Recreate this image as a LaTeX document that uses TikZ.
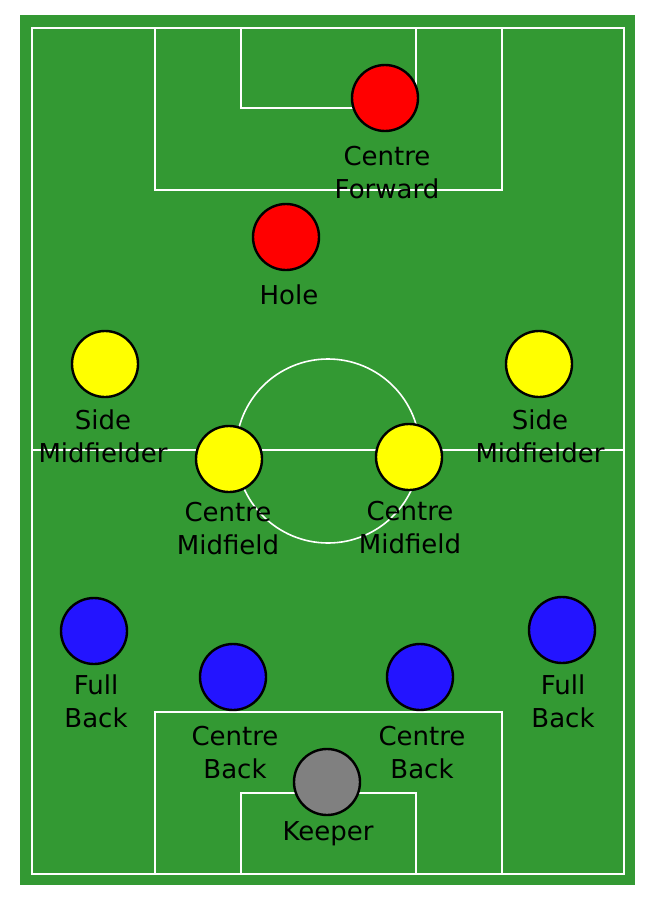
\documentclass[tikz,border=0pt]{standalone}
\usepackage{fontspec}
\setmainfont{DejaVu Sans}
\definecolor{pitch}{RGB}{51,153,51}
\definecolor{fwd}{RGB}{255,0,0}
\definecolor{mid}{RGB}{255,255,0}
\definecolor{def}{RGB}{35,20,255}
\definecolor{gk}{RGB}{128,128,128}
\begin{document}
\begin{tikzpicture}[x=1pt,y=-1pt,
  pline/.style={draw=white,line width=1.6pt},
  player/.style={circle,draw=black,line width=2.4pt,minimum size=66pt,inner sep=0pt},
  lbl/.style={anchor=base,align=center,font=\fontsize{26}{33}\selectfont,text=black,inner sep=0pt}]
\useasboundingbox (0,0) rectangle (648,899);
\fill[pitch] (20,15) rectangle (635,885);
% markings
\draw[pline] (32,28) rectangle (624,874);
\draw[pline] (32,450) -- (624,450);
\draw[pline] (328,451) circle[radius=92];
\draw[pline] (155,28) rectangle (502,190);
\draw[pline] (241,28) rectangle (416,108);
\draw[pline] (155,712) rectangle (502,874);
\draw[pline] (241,793) rectangle (416,874);
% players
\node[player,fill=fwd] (cf) at (385,98) {};
\node[player,fill=fwd] (hole) at (286,237) {};
\node[player,fill=mid] (sml) at (105,364) {};
\node[player,fill=mid] (smr) at (539,364) {};
\node[player,fill=mid] (cml) at (229,459) {};
\node[player,fill=mid] (cmr) at (409,457) {};
\node[player,fill=def] (fbl) at (94,631) {};
\node[player,fill=def] (fbr) at (562,630) {};
\node[player,fill=def] (cbl) at (233,677) {};
\node[player,fill=def] (cbr) at (420,677) {};
\node[player,fill=gk] (gk) at (327,782) {};
% labels (base = baseline of last line)
\node[lbl] (tcf) at (387,198) {Centre\\Forward};
\node[lbl] (thole) at (289,304) {Hole};
\node[lbl] (tsml) at (103,462) {Side\\Midfielder};
\node[lbl] (tsmr) at (540,462) {Side\\Midfielder};
\node[lbl] (tcml) at (228,554) {Centre\\Midfield};
\node[lbl] (tcmr) at (410,553) {Centre\\Midfield};
\node[lbl] (tfbl) at (96,727) {Full\\Back};
\node[lbl] (tfbr) at (563,727) {Full\\Back};
\node[lbl] (tcbl) at (235,778) {Centre\\Back};
\node[lbl] (tcbr) at (422,778) {Centre\\Back};
\node[lbl] (tgk) at (328,840) {Keeper};
\end{tikzpicture}
\end{document}
